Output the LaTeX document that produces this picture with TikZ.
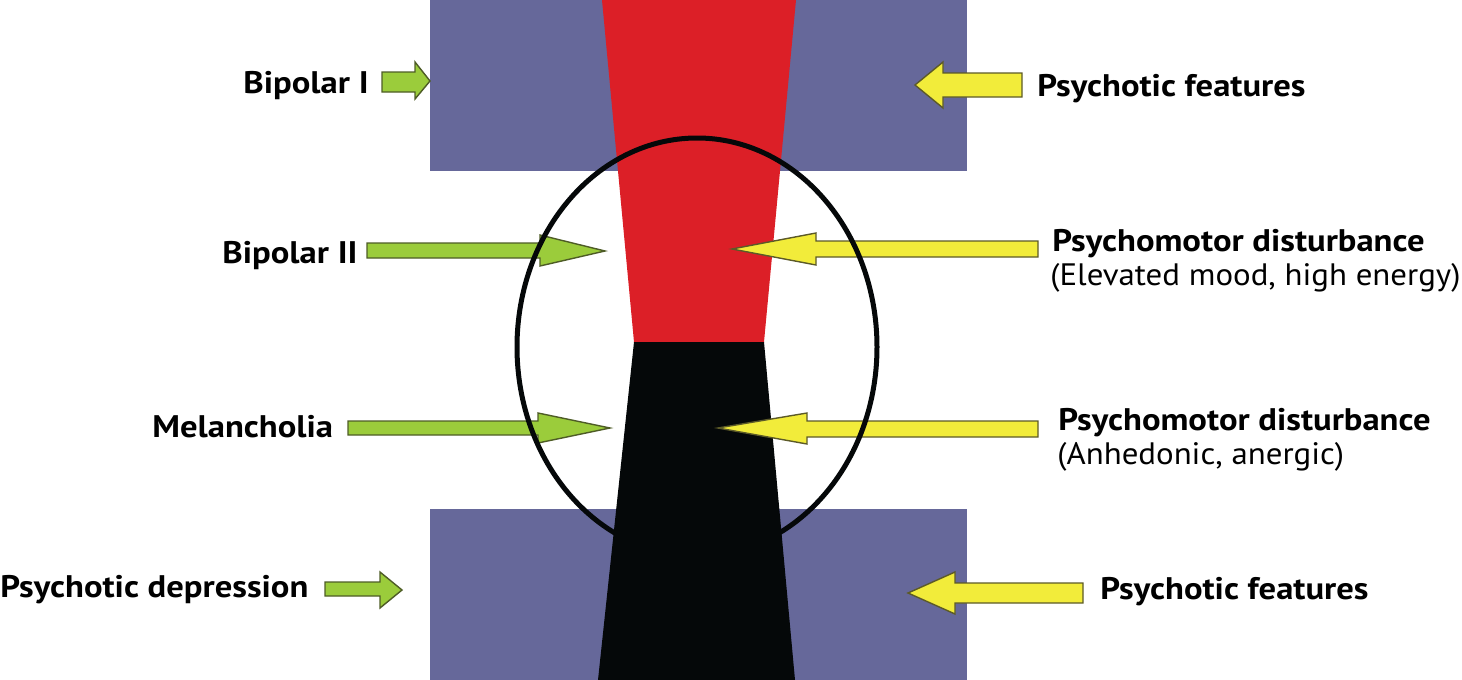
\documentclass[tikz,border=0pt]{standalone}
\usepackage{fontspec}
\setmainfont{PT Sans}
\newfontfamily\boldlab{PT Sans}[FakeStretch=1.11]
\newfontfamily\reglab{PT Sans}[FakeStretch=1.06]
\definecolor{slab}{RGB}{102,104,154}
\definecolor{manred}{RGB}{220,31,39}
\definecolor{depblack}{RGB}{5,8,9}
\definecolor{greenfill}{RGB}{155,204,59}
\definecolor{greenline}{RGB}{78,92,38}
\definecolor{yellowfill}{RGB}{242,236,58}
\definecolor{yellowline}{RGB}{92,90,40}
\tikzset{
  slabbox/.style={fill=slab, draw=none},
  greenarrow/.style={fill=greenfill, draw=greenline, line width=0.7pt, line join=miter},
  yellowarrow/.style={fill=yellowfill, draw=yellowline, line width=0.7pt, line join=miter},
  boldlabel/.style={inner sep=0pt, anchor=base west, font=\boldlab\fontsize{15.6}{18}\selectfont\bfseries},
  twolabel/.style={inner sep=0pt, anchor=base west, align=left, font=\reglab\fontsize{15.5}{18}\selectfont}
}
\begin{document}
\begin{tikzpicture}[x=0.5pt,y=-0.5pt]
\useasboundingbox (0,0) rectangle (1462,680);
% slabs
\fill[slabbox] (430,0) rectangle (967,171);
\fill[slabbox] (430,509) rectangle (967,680);
% columns
\fill[manred] (602,0) -- (796,0) -- (764,342) -- (634,342) -- cycle;
\fill[depblack] (634,342) -- (764,342) -- (795,680) -- (598,680) -- cycle;
% green arrows (pointing right)
\draw[greenarrow] (382,72) -- (415,72) -- (415,62) -- (430,81) -- (415,99) -- (415,92) -- (382,92) -- cycle;
\draw[greenarrow] (367,243) -- (540,243) -- (540,235) -- (605,251) -- (540,266) -- (540,258) -- (367,258) -- cycle;
\draw[greenarrow] (348,421) -- (538,421) -- (538,413) -- (610,428) -- (538,443) -- (538,435) -- (348,435) -- cycle;
\draw[greenarrow] (325,582) -- (380,582) -- (380,572) -- (402,590) -- (380,608) -- (380,596) -- (325,596) -- cycle;
% yellow arrows (pointing left)
\draw[yellowarrow] (1022,73) -- (943,73) -- (943,62) -- (915,85) -- (943,108) -- (943,97) -- (1022,97) -- cycle;
\draw[yellowarrow] (1038,241) -- (816,241) -- (816,233) -- (732,249) -- (816,265) -- (816,257) -- (1038,257) -- cycle;
\draw[yellowarrow] (1038,421) -- (807,421) -- (807,413) -- (718,428) -- (807,444) -- (807,437) -- (1038,437) -- cycle;
\draw[yellowarrow] (1083,583) -- (955,583) -- (955,572) -- (908,593) -- (955,614) -- (955,603) -- (1083,603) -- cycle;
% ellipse
\draw[line width=2.5pt, depblack] (697,347) ellipse [x radius=180, y radius=209];
% labels
\node[boldlabel] (bp1) at (243,93) {Bipolar I};
\node[boldlabel] (pf1) at (1037,96) {Psychotic features};
\node[boldlabel] (bp2) at (222,263) {Bipolar II};
\node[boldlabel] (pm1) at (1052,251) {Psychomotor disturbance};
\node[twolabel] (pm1b) at (1050,285) {(Elevated mood, high energy)};
\node[boldlabel] (mel) at (152,437) {Melancholia};
\node[boldlabel] (pm2) at (1058,430) {Psychomotor disturbance};
\node[twolabel] (pm2b) at (1057,464) {(Anhedonic, anergic)};
\node[boldlabel] (pd) at (0,597) {Psychotic depression};
\node[boldlabel] (pf2) at (1100,599) {Psychotic features};
\end{tikzpicture}
\end{document}
